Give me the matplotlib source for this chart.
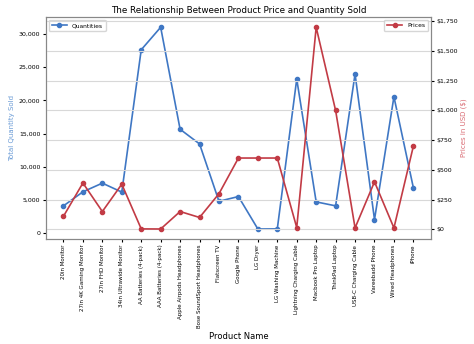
import matplotlib
matplotlib.use("Agg")
import matplotlib.pyplot as plt
from matplotlib.ticker import FuncFormatter

products = ["20in Monitor", "27in 4K Gaming Monitor", "27in FHD Monitor",
            "34in Ultrawide Monitor", "AA Batteries (4-pack)", "AAA Batteries (4-pack)",
            "Apple Airpods Headphones", "Bose SoundSport Headphones", "Flatscreen TV",
            "Google Phone", "LG Dryer", "LG Washing Machine", "Lightning Charging Cable",
            "Macbook Pro Laptop", "ThinkPad Laptop", "USB-C Charging Cable",
            "Vareebadd Phone", "Wired Headphones", "iPhone"]
quantities = [4129, 6244, 7550, 6199, 27635, 31017, 15661, 13457, 4819, 5532,
              646, 666, 23217, 4728, 4130, 23975, 2068, 20557, 6849]
prices = [109.99, 389.99, 149.99, 379.99, 3.84, 2.99, 150.0, 99.99, 300.0, 600.0,
          600.0, 600.0, 14.95, 1700.0, 999.99, 11.95, 400.0, 11.99, 700.0]

blue = "#3f77c4"
red = "#c23b45"

fig, ax1 = plt.subplots(figsize=(4.74, 3.44), dpi=100)
fig.subplots_adjust(left=0.097, right=0.909, top=0.95, bottom=0.305)
ax2 = ax1.twinx()

ax1.plot(products, quantities, color=blue, marker="o", markersize=3, linewidth=1.2, label="Quantities")
ax2.plot(products, prices, color=red, marker="o", markersize=3, linewidth=1.2, label="Prices")

ax1.set_title("The Relationship Between Product Price and Quantity Sold", fontsize=6.3, pad=3)
ax1.set_xlabel("Product Name", fontsize=6, labelpad=3)
ax1.set_ylabel("Total Quantity Sold", fontsize=5, color="#6a9bd6")
ax2.set_ylabel("Prices in USD ($)", fontsize=5, color="#d96a72")
ax1.yaxis.set_label_coords(-0.08, 0.5)
ax2.yaxis.set_label_coords(1.078, 0.5)

ax1.yaxis.set_major_formatter(FuncFormatter(lambda v, p: f"{int(v):,}"))
ax2.yaxis.set_major_formatter(FuncFormatter(lambda v, p: f"${int(v):,}"))
ax2.set_yticks([0, 250, 500, 750, 1000, 1250, 1500, 1750])
ax2.grid(True, color="#d8d8d8", linewidth=0.8)
ax2.set_axisbelow(True)

ax1.tick_params(axis="x", labelrotation=90, labelsize=4, length=2, pad=2)
ax1.tick_params(axis="y", labelsize=4.5, length=2, pad=2)
ax2.tick_params(axis="y", labelsize=4.5, length=2, pad=2)

for ax in (ax1, ax2):
    for s in ax.spines.values():
        s.set_color("#888888")
        s.set_linewidth(0.8)

ax1.legend(loc="upper left", fontsize=4.3, handlelength=2.5, borderpad=0.5)
ax2.legend(loc="upper right", fontsize=4.3, handlelength=2.5, borderpad=0.5)

fig.savefig("out.png", dpi=100)
